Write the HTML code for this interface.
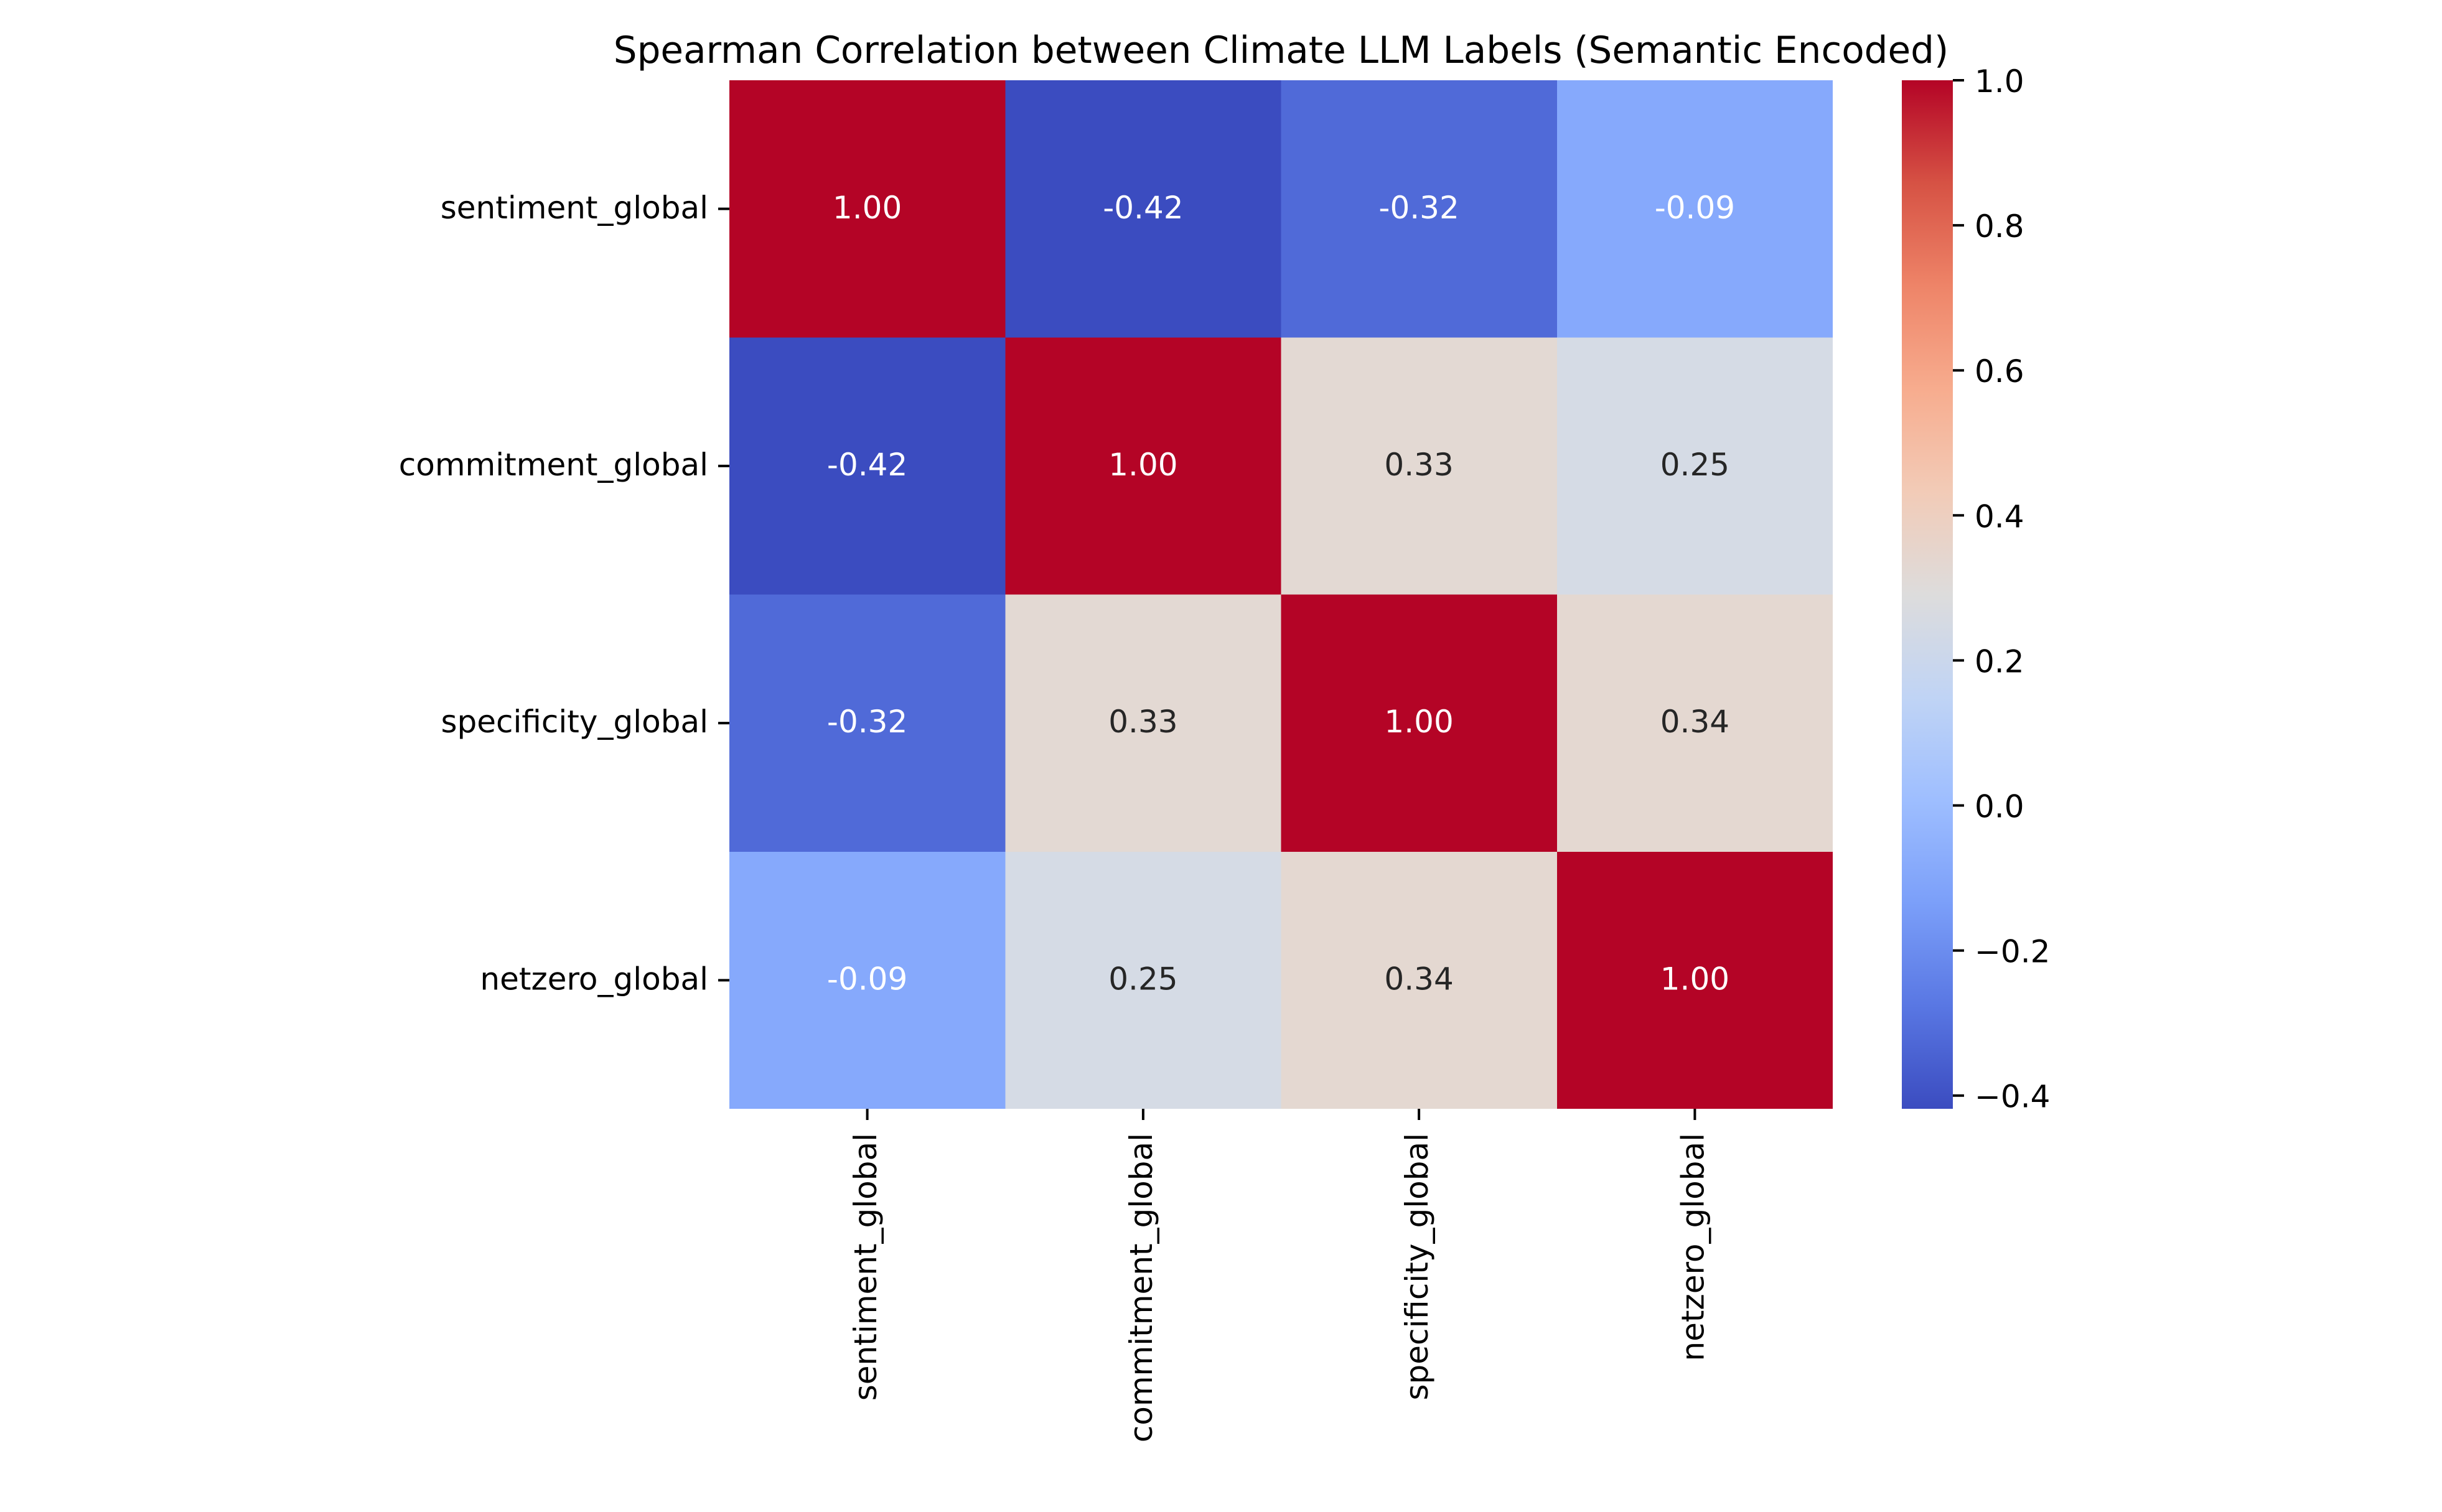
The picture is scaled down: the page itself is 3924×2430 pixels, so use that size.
<!DOCTYPE html>
<html>
<head>
<meta charset="utf-8">
<style>
  html, body { margin:0; padding:0; background:#ffffff; }
  svg { display:block; }
  text { font-family: "DejaVu Sans", "Liberation Sans", sans-serif; }
</style>
</head>
<body>
<svg width="3924" height="2430" viewBox="0 0 3924 2430" xmlns="http://www.w3.org/2000/svg">
  <defs>
    <linearGradient id="cw" x1="0" y1="0" x2="0" y2="1">
      <stop offset="0" stop-color="#b40426"/>
      <stop offset="0.1" stop-color="#d65244"/>
      <stop offset="0.2" stop-color="#ee8468"/>
      <stop offset="0.3" stop-color="#f7ac8e"/>
      <stop offset="0.4" stop-color="#f2cbb7"/>
      <stop offset="0.5" stop-color="#dddcdc"/>
      <stop offset="0.6" stop-color="#c0d4f5"/>
      <stop offset="0.7" stop-color="#9ebeff"/>
      <stop offset="0.8" stop-color="#7b9ff9"/>
      <stop offset="0.9" stop-color="#5977e3"/>
      <stop offset="1" stop-color="#3b4cc0"/>
    </linearGradient>
  </defs>
  <rect x="0" y="0" width="3924" height="2430" fill="#ffffff"/>

  <!-- Title -->
  <text x="2058.5" y="101" font-size="59.6" text-anchor="middle" fill="#000">Spearman Correlation between Climate LLM Labels (Semantic Encoded)</text>

  <!-- Heatmap cells -->
  <g shape-rendering="crispEdges">
    <rect x="1172" y="129" width="443.25" height="413.25" fill="#b40426"/>
    <rect x="1615.25" y="129" width="443.25" height="413.25" fill="#3b4cc0"/>
    <rect x="2058.5" y="129" width="443.25" height="413.25" fill="#506ad8"/>
    <rect x="2501.75" y="129" width="443.25" height="413.25" fill="#86a9fc"/>

    <rect x="1172" y="542.25" width="443.25" height="413.25" fill="#3b4cc0"/>
    <rect x="1615.25" y="542.25" width="443.25" height="413.25" fill="#b40426"/>
    <rect x="2058.5" y="542.25" width="443.25" height="413.25" fill="#e3d9d3"/>
    <rect x="2501.75" y="542.25" width="443.25" height="413.25" fill="#d5dbe5"/>

    <rect x="1172" y="955.5" width="443.25" height="413.25" fill="#506ad8"/>
    <rect x="1615.25" y="955.5" width="443.25" height="413.25" fill="#e3d9d3"/>
    <rect x="2058.5" y="955.5" width="443.25" height="413.25" fill="#b40426"/>
    <rect x="2501.75" y="955.5" width="443.25" height="413.25" fill="#e4d8d1"/>

    <rect x="1172" y="1368.75" width="443.25" height="413.25" fill="#86a9fc"/>
    <rect x="1615.25" y="1368.75" width="443.25" height="413.25" fill="#d5dbe5"/>
    <rect x="2058.5" y="1368.75" width="443.25" height="413.25" fill="#e4d8d1"/>
    <rect x="2501.75" y="1368.75" width="443.25" height="413.25" fill="#b40426"/>
  </g>

  <!-- Annotations -->
  <g font-size="50" text-anchor="middle">
    <text x="1393.6" y="351" fill="#ffffff">1.00</text>
    <text x="1836.9" y="351" fill="#ffffff">-0.42</text>
    <text x="2280.1" y="351" fill="#ffffff">-0.32</text>
    <text x="2723.4" y="351" fill="#ffffff">-0.09</text>

    <text x="1393.6" y="764" fill="#ffffff">-0.42</text>
    <text x="1836.9" y="764" fill="#ffffff">1.00</text>
    <text x="2280.1" y="764" fill="#262626">0.33</text>
    <text x="2723.4" y="764" fill="#262626">0.25</text>

    <text x="1393.6" y="1177" fill="#ffffff">-0.32</text>
    <text x="1836.9" y="1177" fill="#262626">0.33</text>
    <text x="2280.1" y="1177" fill="#ffffff">1.00</text>
    <text x="2723.4" y="1177" fill="#262626">0.34</text>

    <text x="1393.6" y="1590.5" fill="#ffffff">-0.09</text>
    <text x="1836.9" y="1590.5" fill="#262626">0.25</text>
    <text x="2280.1" y="1590.5" fill="#262626">0.34</text>
    <text x="2723.4" y="1590.5" fill="#ffffff">1.00</text>
  </g>

  <!-- Y ticks -->
  <g stroke="#000" stroke-width="4">
    <line x1="1154" y1="335.6" x2="1172" y2="335.6"/>
    <line x1="1154" y1="748.9" x2="1172" y2="748.9"/>
    <line x1="1154" y1="1162.1" x2="1172" y2="1162.1"/>
    <line x1="1154" y1="1575.4" x2="1172" y2="1575.4"/>
  </g>
  <g font-size="50" text-anchor="end" fill="#000">
    <text x="1138" y="351">sentiment_global</text>
    <text x="1138" y="764">commitment_global</text>
    <text x="1138" y="1177">specificity_global</text>
    <text x="1138" y="1590.5">netzero_global</text>
  </g>

  <!-- X ticks -->
  <g stroke="#000" stroke-width="4">
    <line x1="1393.6" y1="1782" x2="1393.6" y2="1800"/>
    <line x1="1836.9" y1="1782" x2="1836.9" y2="1800"/>
    <line x1="2280.1" y1="1782" x2="2280.1" y2="1800"/>
    <line x1="2723.4" y1="1782" x2="2723.4" y2="1800"/>
  </g>
  <g font-size="50" text-anchor="end" fill="#000">
    <text x="1408" y="1821" transform="rotate(-90 1408 1821)">sentiment_global</text>
    <text x="1851" y="1821" transform="rotate(-90 1851 1821)">commitment_global</text>
    <text x="2294" y="1821" transform="rotate(-90 2294 1821)">specificity_global</text>
    <text x="2737.5" y="1821" transform="rotate(-90 2737.5 1821)">netzero_global</text>
  </g>

  <!-- Colorbar -->
  <rect x="3056" y="129" width="82" height="1653" fill="url(#cw)" shape-rendering="crispEdges"/>
  <g stroke="#000" stroke-width="4">
    <line x1="3138" y1="129" x2="3156" y2="129"/>
    <line x1="3138" y1="362.1" x2="3156" y2="362.1"/>
    <line x1="3138" y1="595.2" x2="3156" y2="595.2"/>
    <line x1="3138" y1="828.3" x2="3156" y2="828.3"/>
    <line x1="3138" y1="1061.4" x2="3156" y2="1061.4"/>
    <line x1="3138" y1="1294.5" x2="3156" y2="1294.5"/>
    <line x1="3138" y1="1527.6" x2="3156" y2="1527.6"/>
    <line x1="3138" y1="1760.7" x2="3156" y2="1760.7"/>
  </g>
  <g font-size="50" fill="#000">
    <text x="3173" y="148">1.0</text>
    <text x="3173" y="381.1">0.8</text>
    <text x="3173" y="614.2">0.6</text>
    <text x="3173" y="847.3">0.4</text>
    <text x="3173" y="1080.4">0.2</text>
    <text x="3173" y="1313.5">0.0</text>
    <text x="3173" y="1546.6">−0.2</text>
    <text x="3173" y="1779.7">−0.4</text>
  </g>
</svg>
</body>
</html>
